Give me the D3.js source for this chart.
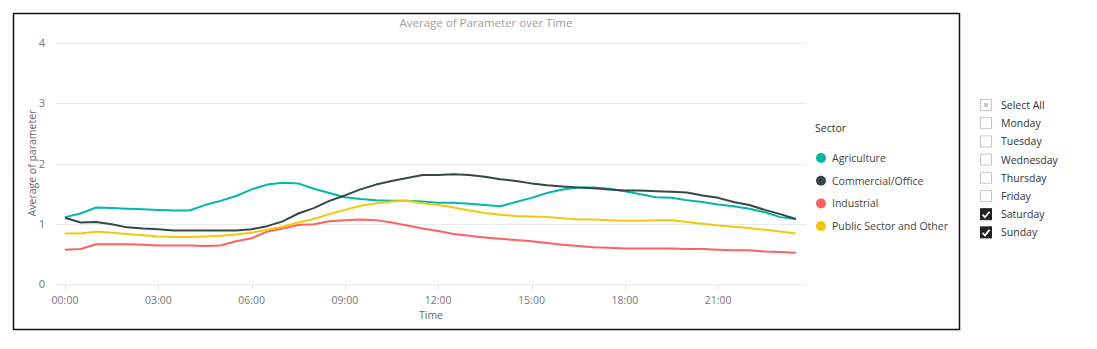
<!DOCTYPE html>
<html>
<head>
<meta charset="utf-8">
<script src="https://cdn.jsdelivr.net/npm/d3@7"></script>
<style>
  body { margin: 0; background: #fff; }
  svg { display: block; font-family: "Segoe UI", "Open Sans", sans-serif; }
</style>
</head>
<body>
<svg id="chart" width="1097" height="349"></svg>
<script>
// half-hourly readings, 00:00 .. 23:30
const hours = d3.range(0, 24, 0.5);

const agriculture = [1.11, 1.17, 1.27, 1.26, 1.25, 1.24, 1.23, 1.22, 1.22, 1.31, 1.38, 1.46,
  1.57, 1.65, 1.68, 1.67, 1.58, 1.51, 1.44, 1.41, 1.39, 1.38, 1.38, 1.37,
  1.35, 1.35, 1.33, 1.31, 1.29, 1.36, 1.43, 1.51, 1.57, 1.60, 1.60, 1.58,
  1.54, 1.49, 1.44, 1.43, 1.39, 1.36, 1.32, 1.29, 1.25, 1.19, 1.11, 1.08];

const commercial = [1.10, 1.02, 1.03, 0.99, 0.94, 0.92, 0.91, 0.89, 0.89, 0.89, 0.89, 0.89,
  0.91, 0.96, 1.04, 1.17, 1.26, 1.38, 1.47, 1.57, 1.65, 1.71, 1.76, 1.81,
  1.81, 1.82, 1.81, 1.78, 1.74, 1.71, 1.67, 1.64, 1.62, 1.60, 1.59, 1.57,
  1.55, 1.55, 1.54, 1.53, 1.52, 1.47, 1.43, 1.36, 1.31, 1.23, 1.16, 1.08];

const industrial = [0.57, 0.58, 0.66, 0.66, 0.66, 0.65, 0.64, 0.64, 0.64, 0.63, 0.64, 0.71,
  0.76, 0.87, 0.92, 0.98, 0.99, 1.04, 1.06, 1.07, 1.06, 1.02, 0.97, 0.92,
  0.88, 0.83, 0.80, 0.77, 0.75, 0.73, 0.71, 0.68, 0.65, 0.63, 0.61, 0.60,
  0.59, 0.59, 0.59, 0.59, 0.58, 0.58, 0.57, 0.56, 0.56, 0.54, 0.53, 0.52];

const publicSector = [0.84, 0.84, 0.87, 0.85, 0.83, 0.81, 0.79, 0.78, 0.78, 0.79, 0.80, 0.82,
  0.85, 0.90, 0.95, 1.02, 1.08, 1.16, 1.23, 1.30, 1.34, 1.37, 1.38, 1.34,
  1.31, 1.27, 1.22, 1.18, 1.15, 1.13, 1.12, 1.11, 1.09, 1.07, 1.07, 1.06,
  1.05, 1.05, 1.06, 1.06, 1.03, 1.00, 0.97, 0.95, 0.93, 0.90, 0.87, 0.84];

const sectorNames = ["Agriculture", "Commercial/Office", "Industrial", "Public Sector and Other"];
const sectorColors = ["#01B8AA", "#374649", "#FD625E", "#F2C80F"];

const xTickHours = [0, 3, 6, 9, 12, 15, 18, 21];
const yTickValues = [0, 1, 2, 3, 4];

const dayLabels = ["Select All", "Monday", "Tuesday", "Wednesday", "Thursday", "Friday", "Saturday", "Sunday"];
const dayChecked = ["partial", "off", "off", "off", "off", "off", "on", "on"];

const series = [agriculture, commercial, industrial, publicSector];

const svg = d3.select("#chart");

// visual frame
svg.append("rect")
  .attr("x", 13.5).attr("y", 13.5)
  .attr("width", 946).attr("height", 316)
  .attr("fill", "none")
  .attr("stroke", "#111")
  .attr("stroke-width", 1.5);

const plotLeft = 56;
const plotRight = 806;

const x = d3.scaleLinear().domain([0, 24]).range([65, 811.4]);
const y = d3.scaleLinear().domain([0, 4]).range([284, 43]);

const fmtHour = h => String(h).padStart(2, "0") + ":00";

// gridlines
svg.append("g")
  .selectAll("line")
  .data(yTickValues)
  .join("line")
  .attr("x1", plotLeft).attr("x2", plotRight)
  .attr("y1", d => Math.round(y(d)) + 0.5)
  .attr("y2", d => Math.round(y(d)) + 0.5)
  .attr("stroke", "#ebebeb")
  .attr("stroke-width", 1);

// y tick labels
svg.append("g")
  .selectAll("text")
  .data(yTickValues)
  .join("text")
  .attr("x", 45)
  .attr("y", d => y(d) + 4)
  .attr("text-anchor", "end")
  .attr("font-size", 11)
  .attr("fill", "#777")
  .text(d => d);

// x axis ticks + labels
const xAxis = svg.append("g");
xAxis.selectAll("line")
  .data(xTickHours)
  .join("line")
  .attr("x1", d => Math.round(x(d)) + 0.5)
  .attr("x2", d => Math.round(x(d)) + 0.5)
  .attr("y1", 285).attr("y2", 289)
  .attr("stroke", "#dcdcdc");
xAxis.selectAll("text")
  .data(xTickHours)
  .join("text")
  .attr("x", d => x(d))
  .attr("y", 304)
  .attr("text-anchor", "middle")
  .attr("font-size", 10.5)
  .attr("fill", "#777")
  .text(fmtHour);

// axis titles
svg.append("text")
  .attr("x", (plotLeft + plotRight) / 2)
  .attr("y", 319)
  .attr("text-anchor", "middle")
  .attr("font-size", 10.5)
  .attr("fill", "#666")
  .text("Time");

svg.append("text")
  .attr("transform", "translate(36,163) rotate(-90)")
  .attr("text-anchor", "middle")
  .attr("font-size", 10.5)
  .attr("fill", "#666")
  .text("Average of parameter");

svg.append("text")
  .attr("x", 486)
  .attr("y", 27)
  .attr("text-anchor", "middle")
  .attr("font-size", 11.5)
  .attr("fill", "#a0a0a0")
  .text("Average of Parameter over Time");

// lines
const line = d3.line()
  .x((d, i) => x(hours[i]))
  .y(d => y(d));

svg.append("g")
  .selectAll("path")
  .data(series)
  .join("path")
  .attr("d", line)
  .attr("fill", "none")
  .attr("stroke", (d, i) => sectorColors[i])
  .attr("stroke-width", 2)
  .attr("stroke-linejoin", "round");

// legend
const legend = svg.append("g").attr("transform", "translate(815,0)");
legend.append("text")
  .attr("x", 0).attr("y", 132)
  .attr("font-size", 10.5)
  .attr("fill", "#333")
  .text("Sector");
const legendItems = legend.selectAll("g.item")
  .data(sectorNames)
  .join("g")
  .attr("class", "item")
  .attr("transform", (d, i) => `translate(0,${158 + i * 22.7})`);
legendItems.append("circle")
  .attr("cx", 6).attr("cy", 0).attr("r", 5)
  .attr("fill", (d, i) => sectorColors[i]);
legendItems.append("text")
  .attr("x", 17).attr("y", 4)
  .attr("font-size", 10.5)
  .attr("fill", "#444")
  .text(d => d);

// day slicer
const slicer = svg.append("g").attr("transform", "translate(980,0)");
const rows = slicer.selectAll("g")
  .data(dayLabels)
  .join("g")
  .attr("transform", (d, i) => `translate(0,${105 + i * 18.2})`);
rows.append("rect")
  .attr("x", 0.5).attr("y", -5.5)
  .attr("width", 11).attr("height", 11)
  .attr("fill", (d, i) => dayChecked[i] === "on" ? "#222" : "#fff")
  .attr("stroke", (d, i) => dayChecked[i] === "on" ? "#222" : "#c8c8c8");
rows.filter((d, i) => dayChecked[i] === "partial")
  .append("rect")
  .attr("x", 4).attr("y", -2)
  .attr("width", 4).attr("height", 4)
  .attr("fill", "#c8c8c8");
rows.filter((d, i) => dayChecked[i] === "on")
  .append("path")
  .attr("d", "M2.5,0.5 L5,3 L9.5,-2.5")
  .attr("fill", "none")
  .attr("stroke", "#fff")
  .attr("stroke-width", 1.8);
rows.append("text")
  .attr("x", 21).attr("y", 4)
  .attr("font-size", 10.5)
  .attr("fill", "#333")
  .text(d => d);
</script>
</body>
</html>
